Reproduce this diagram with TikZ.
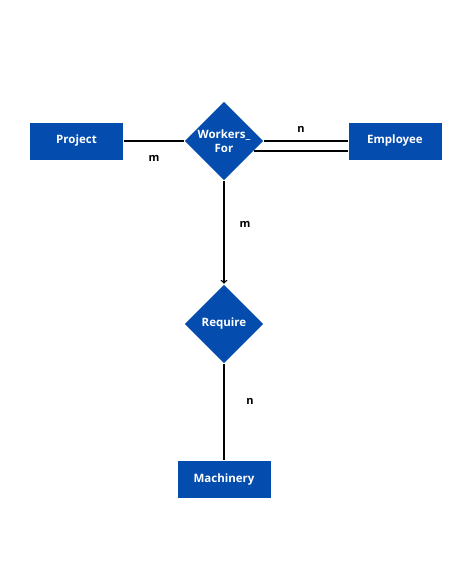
\documentclass[tikz,border=0pt]{standalone}
\usepackage{fontspec}
\setmainfont{Open Sans}
\usepackage{tikz}
\usetikzlibrary{shapes.geometric,calc}
\definecolor{erblue}{RGB}{4,76,174}

\begin{document}
\begin{tikzpicture}[x=1pt, y=-1pt, line width=1.6pt,
  entity/.style={fill=erblue, text=white, font=\bfseries\fontsize{11.5}{13}\selectfont,
    minimum width=93pt, minimum height=37pt, inner sep=0pt},
  relation/.style={diamond, fill=erblue, text=white, font=\bfseries\fontsize{11.5}{14}\selectfont,
    minimum width=79pt, minimum height=79pt, inner sep=0pt, align=center},
  card/.style={font=\bfseries\fontsize{11}{13}\selectfont}]
\useasboundingbox (0, 0) rectangle (474, 568);
% entities
\node [entity] (proj) at (76.5, 141) {Project};
\node [entity] (emp) at (395, 141) {Employee};
\node [entity] (mach) at (224, 479.5) {Machinery};
% relationships
\node [relation] (wf) at (224, 141) {Workers\_\\For};
\node [relation] (req) at (224, 324) {Require};
% connectors
\draw (proj.east) -- (wf.west);
\draw (wf.east) -- (emp.west |- wf.east);
\draw ($(wf.east)+(-10, 10)$) -- (emp.west |- {$(wf.east)+(0, 10)$});
\draw [->, line width=1.4pt] (wf.south) -- (req.north);
\draw (req.south) -- (mach.north);
% cardinalities
\node [card] (c1) at (154, 158) {m};
\node [card] (c2) at (301, 129) {n};
\node [card] (c3) at (245, 224) {m};
\node [card] (c4) at (250, 401) {n};
\end{tikzpicture}
\end{document}
